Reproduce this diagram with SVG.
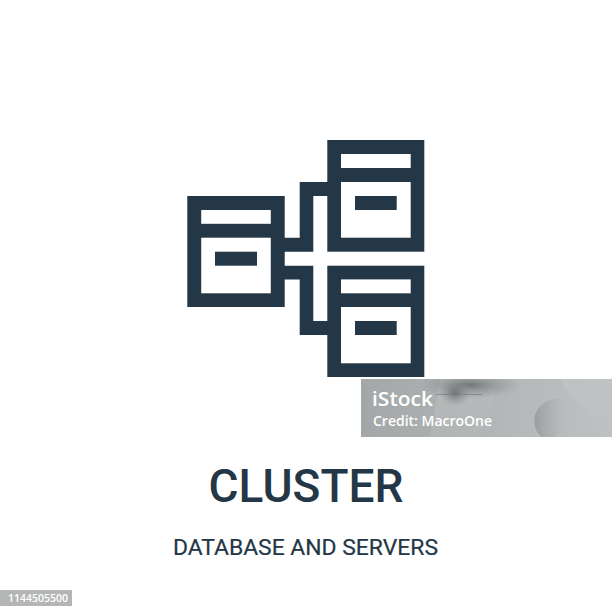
<svg xmlns="http://www.w3.org/2000/svg" width="612" height="612" viewBox="0 0 612 612">
<style>
.ink{fill:#243746}
.hole{fill:#fff}
.t{fill:#243746;font-family:Roboto,"Liberation Sans",sans-serif;text-anchor:middle}
.w{fill:#fff;font-family:"Open Sans","Liberation Sans",sans-serif}
</style>
<defs>
<linearGradient id="wm" x1="0" y1="0" x2="1" y2="0">
<stop offset="0" stop-color="#a3a7a7"/><stop offset="0.25" stop-color="#aaaeae"/><stop offset="0.55" stop-color="#b3b7b7"/><stop offset="1" stop-color="#bdc1c1"/>
</linearGradient>
<radialGradient id="d1"><stop offset="0" stop-color="#606565" stop-opacity=".8"/><stop offset="1" stop-color="#8a8e8e" stop-opacity="0"/></radialGradient>
<linearGradient id="d2" x1="0" y1="0" x2="1" y2="0"><stop offset="0" stop-color="#8f9494" stop-opacity=".75"/><stop offset="1" stop-color="#a8acac" stop-opacity="0"/></linearGradient>
<linearGradient id="d3" x1="0" y1="0" x2="1" y2="1"><stop offset="0" stop-color="#c8cccc" stop-opacity=".4"/><stop offset="1" stop-color="#c8cccc" stop-opacity="0"/></linearGradient>
<clipPath id="wc"><rect x="361" y="379" width="251" height="58"/></clipPath>
</defs>
<rect width="612" height="612" fill="#fff"/>
<g id="connectors">
<path class="ink" d="M284 237.7H299.7V182H328V196H313.3V251.7H284Z"/>
<path class="ink" d="M284 265.7H313.3V321H328V335H299.7V279.4H284Z"/>
</g>
<g id="node-left">
<rect class="ink" x="187.3" y="196" width="97.4" height="111"/>
<rect class="hole" x="201.2" y="210" width="69.6" height="13.8"/>
<rect class="hole" x="201.2" y="237.7" width="69.6" height="55.6"/>
<rect class="ink" x="215" y="251.7" width="42" height="14"/>
</g>
<g id="node-top">
<rect class="ink" x="327.3" y="140" width="97" height="111.7"/>
<rect class="hole" x="341" y="154" width="69.7" height="14"/>
<rect class="hole" x="341" y="182" width="69.7" height="55.7"/>
<rect class="ink" x="355" y="196" width="41.7" height="14"/>
</g>
<g id="node-bottom">
<rect class="ink" x="327.3" y="265.7" width="97" height="111.3"/>
<rect class="hole" x="341" y="279.4" width="69.7" height="13.9"/>
<rect class="hole" x="341" y="307" width="69.7" height="56.3"/>
<rect class="ink" x="355" y="321" width="41.7" height="14"/>
</g>
<text class="t" x="306" y="502" font-size="46" font-weight="500">CLUSTER</text>
<text class="t" x="305.5" y="555" font-size="22" font-weight="400" textLength="265" lengthAdjust="spacingAndGlyphs" stroke="#243746" stroke-width=".2">DATABASE AND SERVERS</text>
<g id="watermark">
<rect x="361" y="379" width="251" height="58" fill="url(#wm)"/>
<g clip-path="url(#wc)">
<path d="M440 379H500L480 437H430Z" fill="url(#d3)"/>
<ellipse cx="470" cy="385" rx="52" ry="14" fill="url(#d1)"/>
<ellipse cx="455" cy="393" rx="16" ry="14" fill="url(#d1)"/>
<rect x="436" y="394" width="46" height="1" fill="#6f7474" opacity=".6"/>
<path d="M535 415Q540 400 560 398Q575 420 555 437H541Q532 428 535 415Z" fill="url(#d2)"/>
<path d="M560 379H612V430Q585 420 560 379Z" fill="url(#d3)"/>
</g>
<text class="w" x="372" y="406" font-size="20" font-weight="600" textLength="61" lengthAdjust="spacingAndGlyphs">iStock</text>
<text class="w" x="373" y="426" font-size="13.5" font-weight="600" textLength="119" lengthAdjust="spacingAndGlyphs">Credit: MacroOne</text>
</g>
<g id="id-strip">
<rect x="0" y="590" width="72" height="16" fill="#b4b6b6"/>
<text class="w" x="8" y="602" font-size="10.5" font-weight="600">1144505500</text>
</g>
</svg>
